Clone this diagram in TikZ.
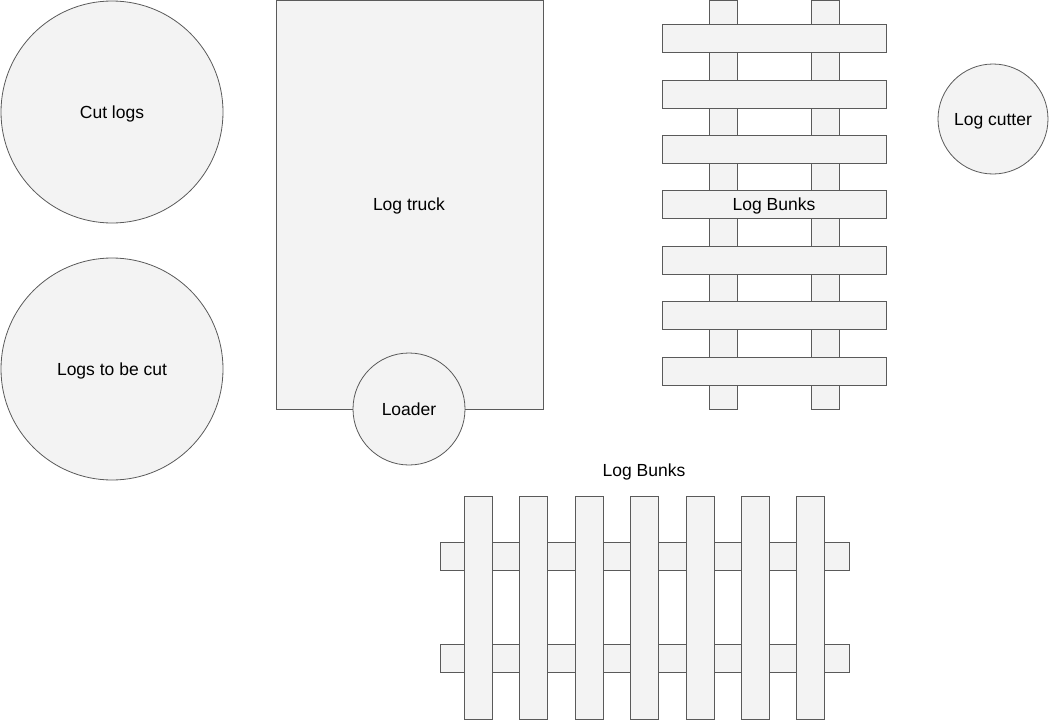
\documentclass[tikz,border=0pt]{standalone}
\usepackage{fontspec}
\setmainfont{Liberation Sans}
\definecolor{shapefill}{HTML}{F3F3F3}
\definecolor{shapeline}{HTML}{5A5A5A}
\tikzset{
  shp/.style={draw=shapeline, fill=shapefill, line width=0.8pt, inner sep=0pt, outer sep=0pt},
  disc/.style={shp, circle},
  slab/.style={shp, rectangle},
  lbl/.style={font=\fontsize{17.5}{21}\selectfont, text=black, inner sep=0pt, anchor=base, yshift=-6.3pt}
}
\begin{document}
\begin{tikzpicture}[x=1pt,y=-1pt]
\useasboundingbox (0,0) rectangle (1050,720);
% left circles
\node[disc, minimum size=222] (cut) at (112,112) {};
\node[lbl] (cutl) at (cut.center) {Cut logs};
\node[disc, minimum size=222] (tobe) at (112,369) {};
\node[lbl] (tobel) at (tobe.center) {Logs to be cut};
% truck
\node[slab, minimum width=267, minimum height=409] (truck) at (409.5,204.5) {};
\node[lbl] (truckl) at (409,204.5) {Log truck};
\node[disc, minimum size=112] (loader) at (409,409) {};
\node[lbl] (loaderl) at (loader.center) {Loader};
% log cutter
\node[disc, minimum size=110] (cutter) at (993,119) {};
\node[lbl] (cutterl) at (cutter.center) {Log cutter};
% upper bunks
\node[slab, minimum width=28, minimum height=409] (uv1) at (723.5,204.5) {};
\node[slab, minimum width=28, minimum height=409] (uv2) at (825.5,204.5) {};
\foreach \y [count=\i] in {38,94,149.5,204.5,260,315,371}{
  \node[slab, minimum width=224, minimum height=28] (uh\i) at (774.5,\y) {};
}
\node[lbl] (ubl) at (774,204.5) {Log Bunks};
% lower bunks
\node[lbl] (lbl2) at (644,470) {Log Bunks};
\node[slab, minimum width=409, minimum height=28] (lh1) at (644.5,556) {};
\node[slab, minimum width=409, minimum height=28] (lh2) at (644.5,658.5) {};
\foreach \x [count=\i] in {478,533.5,589,644.5,700,755,810.5}{
  \node[slab, minimum width=28, minimum height=223] (lv\i) at (\x,607.5) {};
}
\end{tikzpicture}
\end{document}
